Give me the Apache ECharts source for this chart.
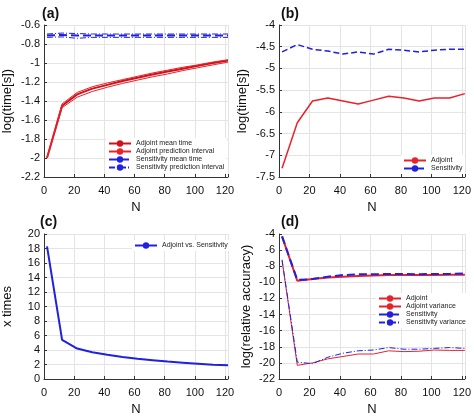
<!DOCTYPE html><html><head><meta charset="utf-8"><script src="https://cdn.jsdelivr.net/npm/echarts@6/dist/echarts.min.js"></script>
<style>body{margin:0}#c{width:474px;height:417px}</style></head><body><div id="c"></div><script>
const N=[2,12,22,32,42,52,62,72,82,92,102,112,122];
const xTicks=[0,20,40,60,80,100,120];
const aAdj=[-2.0,-1.45,-1.33,-1.27,-1.23,-1.19,-1.155,-1.12,-1.09,-1.06,-1.03,-1.0,-0.975];
const aAdjUp=[-1.99,-1.43,-1.31,-1.25,-1.21,-1.175,-1.14,-1.105,-1.075,-1.045,-1.02,-0.99,-0.965];
const aAdjLo=[-2.0,-1.47,-1.36,-1.30,-1.255,-1.215,-1.18,-1.145,-1.115,-1.08,-1.05,-1.02,-0.99];
const aSen=[-0.71,-0.705,-0.71,-0.71,-0.71,-0.71,-0.71,-0.71,-0.71,-0.71,-0.71,-0.71,-0.71];
const aSenUp=[-0.695,-0.685,-0.69,-0.695,-0.695,-0.695,-0.695,-0.695,-0.695,-0.695,-0.695,-0.695,-0.695];
const aSenLo=[-0.73,-0.725,-0.74,-0.73,-0.73,-0.73,-0.73,-0.73,-0.73,-0.73,-0.73,-0.73,-0.73];
const bAdj=[-7.3,-6.25,-5.75,-5.68,-5.75,-5.82,-5.73,-5.64,-5.68,-5.75,-5.68,-5.68,-5.58];
const bSen=[-4.62,-4.45,-4.56,-4.6,-4.67,-4.62,-4.67,-4.56,-4.58,-4.62,-4.58,-4.56,-4.56];
const cRatio=[18.3,5.4,4.2,3.7,3.35,3.05,2.8,2.6,2.4,2.25,2.1,1.95,1.9];
const dAdj=[-4.3,-9.8,-9.6,-9.4,-9.3,-9.2,-9.15,-9.1,-9.1,-9.1,-9.1,-9.05,-9.05];
const dSen=[-4.3,-9.7,-9.6,-9.3,-9.1,-9.0,-9.0,-8.95,-8.95,-9.0,-8.95,-8.95,-8.9];
const dAdjVar=[-7.3,-20.3,-20.0,-19.5,-19.2,-18.9,-18.9,-18.5,-18.6,-18.55,-18.4,-18.45,-18.45];
const dSenVar=[-7.2,-19.9,-20.1,-19.3,-18.8,-18.5,-18.4,-18.1,-18.3,-18.3,-18.2,-18.1,-18.2];
const RED='#e8222a',BLUE='#2020e0',DD=[6,2,1,2];
const grids=[{left:40,top:25,width:188,height:152},{left:279,top:25,width:188,height:152},{left:39,top:234,width:189,height:154},{left:279,top:234,width:188,height:155}];
const yDefs=[{min:-2.2,max:-0.6,interval:0.2,name:'log(time[s])'},{min:-7.5,max:-4,interval:0.5,name:'log(time[s])'},{min:0,max:20,interval:2,name:'x times'},{min:-22,max:-4,interval:2,name:'log(relative accuracy)'}];
const lab={color:'#111',fontSize:11,fontFamily:'Liberation Sans'};
const xAxis=grids.map((g,i)=>({type:'value',gridIndex:i,min:0,max:122,interval:20,name:'N',nameLocation:'middle',nameGap:24,nameTextStyle:{fontSize:13,color:'#111'},
 axisLine:{show:true,lineStyle:{color:'#333'}},axisTick:{inside:true,length:3},axisLabel:Object.assign({},lab,{showMaxLabel:true,formatter:v=>xTicks.includes(v)?String(v):''}),splitLine:{show:true,lineStyle:{color:'#e4e4e4'}}}));
const yAxis=yDefs.map((d,i)=>({type:'value',gridIndex:i,min:d.min,max:d.max,interval:d.interval,name:d.name,nameLocation:'middle',nameGap:i==3?26:30,nameTextStyle:{fontSize:13,color:'#111'},
 axisLine:{show:true,lineStyle:{color:'#333'}},axisTick:{inside:true,length:3},axisLabel:Object.assign({},lab,{margin:4,formatter:v=>String(+v.toFixed(1))}),splitLine:{show:true,lineStyle:{color:'#e4e4e4'}}}));
function s(name,data,i,color,width,type){return {name,type:'line',xAxisIndex:i,yAxisIndex:i,data:N.map((n,k)=>[n,data[k]]),symbol:'none',lineStyle:{color,width,type},itemStyle:{color},animation:false};}
const series=[
 s('Adjoint mean time',aAdj,0,'#d0101a',2,'solid'),
 s('Adjoint prediction interval',aAdjUp,0,RED,1,'solid'),
 s('Adjoint prediction interval',aAdjLo,0,RED,1,'solid'),
 s('Sensitivity mean time',aSen,0,BLUE,2,'dashed'),
 s('Sensitivity prediction interval',aSenUp,0,BLUE,1,DD),
 s('Sensitivity prediction interval',aSenLo,0,BLUE,1,DD),
 s('Adjoint',bAdj,1,RED,1.5,'solid'),
 s('Sensitivity',bSen,1,BLUE,1.5,'dashed'),
 s('Adjoint vs. Sensitivity',cRatio,2,BLUE,2,'solid'),
 s('Adjoint ',dAdj,3,RED,2,'solid'),
 s('Adjoint variance',dAdjVar,3,RED,1,'solid'),
 s('Sensitivity ',dSen,3,BLUE,2,'dashed'),
 s('Sensitivity variance',dSenVar,3,BLUE,1,DD)];
const lt={fontSize:7,color:'#222'};
function lg(data,left,top){return {show:true,data,left,top,orient:'vertical',itemWidth:22,itemHeight:8,itemGap:1,padding:2,textStyle:lt,backgroundColor:'#fff'};}
const legend=[lg(['Adjoint mean time','Adjoint prediction interval','Sensitivity mean time','Sensitivity prediction interval'],106,138),
 lg(['Adjoint','Sensitivity'],401,155),lg(['Adjoint vs. Sensitivity'],132,240),lg(['Adjoint ','Adjoint variance','Sensitivity ','Sensitivity variance'],376,293)];
const title=[['(a)',37,2],['(b)',276,2],['(c)',35,210],['(d)',276,210]].map(t=>({text:t[0],left:t[1],top:t[2],textStyle:{fontSize:14,fontWeight:'bold',color:'#111'}}));
const ch=echarts.init(document.getElementById('c'));
ch.setOption({animation:false,backgroundColor:'#fff',title,grid:grids,xAxis,yAxis,series,legend});
</script></body></html>
